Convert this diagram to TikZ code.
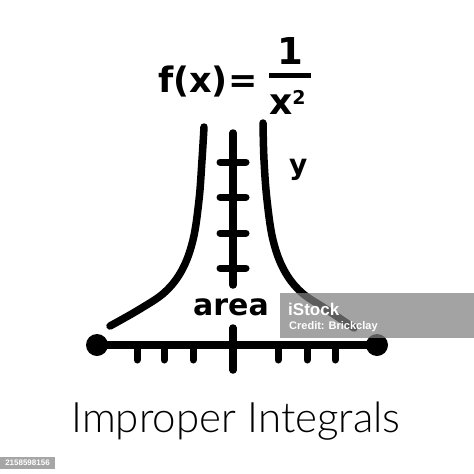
\documentclass[tikz,border=0pt]{standalone}
\usepackage{fontspec}
\newfontfamily\boldface{DejaVu Sans}[UprightFont={* Bold}]
\newfontfamily\lightface{Lato}[UprightFont={* Light}]
\newfontfamily\wmface{Liberation Sans}
\begin{document}
\begin{tikzpicture}[x=1pt,y=-1pt,
  stroke/.style={line width=7.5pt,line cap=round,line join=round},
  tickmark/.style={line width=7pt,line cap=round},
  lbl/.style={inner sep=0pt,font=\boldface,anchor=base west},
  enddot/.style={circle,fill=black,minimum size=22pt,inner sep=0pt}]
\useasboundingbox (0,0) rectangle (474,474);
\fill[white] (0,0) rectangle (474,474);
% formula
\node[lbl,font=\boldface\fontsize{35}{35}\selectfont] (fx) at (158,92) {f(x)\kern1pt=};
\node[lbl,font=\boldface\fontsize{37}{37}\selectfont,anchor=base] (one) at (290,64) {1};
\draw[line width=5pt] (269,75) -- (311,75);
\node[lbl,font=\boldface\fontsize{36}{36}\selectfont] (xsq) at (269,114) {x\raisebox{10pt}{\fontsize{19}{19}\selectfont 2}};
% y axis
\coordinate (ytop) at (233,133);
\coordinate (ygap1) at (233,285);
\coordinate (ygap2) at (233,328);
\coordinate (ybot) at (233,370);
\draw[stroke] (ytop) -- (ygap1);
\draw[stroke] (ygap2) -- (ybot);
\foreach \yy in {162,197,233,268} \draw[tickmark] (220,\yy) -- (246,\yy);
% x axis
\node[enddot] (xl) at (97,345) {};
\node[enddot] (xr) at (377,345) {};
\draw[stroke] (xl.center) -- (xr.center);
\foreach \xx in {137,164,193,278,307,335} \draw[tickmark] (\xx,345) -- (\xx,360);
% curves
\draw[stroke] plot[smooth,tension=0.6] coordinates {(110,326) (140,309) (165,292) (182,270) (193,240) (199,200) (202,160) (204,127)};
\draw[stroke] plot[smooth,tension=0.6] coordinates {(354,328) (326,309) (301,292) (284,270) (273,240) (267,200) (264,160) (263,123)};
% labels
\node[lbl,font=\boldface\fontsize{28}{28}\selectfont] (ylab) at (289,174) {y};
\node[lbl,font=\boldface\fontsize{30}{30}\selectfont] (area) at (193,315) {area};
\node[inner sep=0pt,anchor=base,font=\lightface\fontsize{42}{42}\selectfont] (title) at (236,432) {Improper Integrals};
% watermark
\fill[gray,opacity=0.72] (280,293) rectangle (474,338);
\node[anchor=base west,inner sep=0pt,text=white,font=\wmface\bfseries\fontsize{17}{17}\selectfont] (ist) at (288,315) {iStock};
\node[anchor=base west,inner sep=0pt,text=white,font=\wmface\bfseries\fontsize{11}{11}\selectfont] (cred) at (289,329) {Credit: Brickclay};
\fill[gray!70] (0,457) rectangle (55,469);
\node[anchor=center,inner sep=0pt,text=white,font=\wmface\bfseries\fontsize{8}{8}\selectfont] (idn) at (27.5,463) {2158598156};
\end{tikzpicture}
\end{document}
